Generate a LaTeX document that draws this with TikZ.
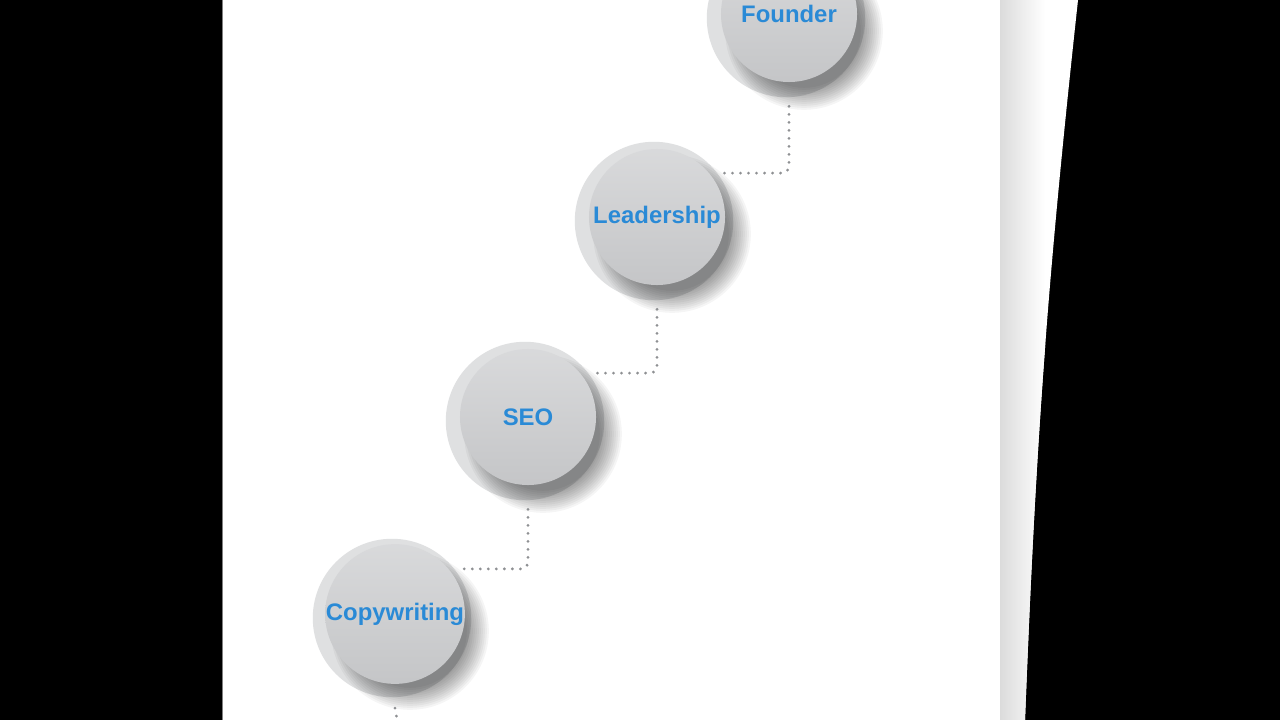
\documentclass[tikz,border=0pt]{standalone}
\usepackage{fontspec}
\setmainfont{Liberation Sans}
\usetikzlibrary{positioning, calc}

\definecolor{discgrey}{HTML}{CFD0D2}
\definecolor{halogrey}{HTML}{DFE0E1}
\definecolor{skillblue}{HTML}{2A8AD6}
\definecolor{dotgrey}{HTML}{8E9093}

\begin{document}
\begin{tikzpicture}[x=0.025cm, y=-0.025cm,
  disc/.style={circle, minimum size=3.4cm, inner sep=0pt, top color=discgrey!80!white, bottom color=discgrey!95!black,
    text=skillblue, font=\bfseries\fontsize{17}{20}\selectfont},
  link/.style={draw=dotgrey, line width=2.2pt, line cap=round, dash pattern=on 0pt off 5.7pt, rounded corners=5pt}]
\useasboundingbox (0,0) rectangle (1280,720);
\clip (0,0) rectangle (1280,720);
% Backdrop and page
\fill[black] (0,0) rectangle (1280,720);
\fill[white] (223,0) rectangle (1000,720);
\draw[gray, line width=0.6pt] (222.5,0) -- (222.5,720);
\begin{scope}
  \clip (1000,0) -- (1078,0) to[bend right=2] (1025,720) -- (1000,720) -- cycle;
  \fill[white] (1000,0) rectangle (1080,720);
  \shade[left color=black!14, right color=white] (1000,0) rectangle (1045,720);
\end{scope}

% Halo and soft shadow behind each disc
\foreach \x/\y in {789/14, 657/217, 528/417, 395/614} {
  \fill[halogrey] (\x-3,\y+4) circle [radius=1.98cm];
  \foreach \k in {0,1,...,11}
    \fill[black, opacity=0.04] (\x+15,\y+17) circle [radius=1.42cm+\k*0.05cm];
}

% Skill discs
\node[disc] (f) at (789,14) {Founder};
\node[disc] (l) at (657,217) {Leadership};
\node[disc] (s) at (528,417) {SEO};
\node[disc] (c) at (395,614) {Copywriting};
\coordinate (next) at (398,725);

% Dotted steps
\draw[link] ([yshift=-0.6cm]f.south) |- ([xshift=0.35cm]l.40);
\draw[link] ([yshift=-0.6cm]l.south) |- ([xshift=0.35cm]s.40);
\draw[link] ([yshift=-0.6cm]s.south) |- ([xshift=0.35cm]c.40);
\draw[link] ([yshift=-0.6cm]c.south) -- (next);
\end{tikzpicture}
\end{document}
